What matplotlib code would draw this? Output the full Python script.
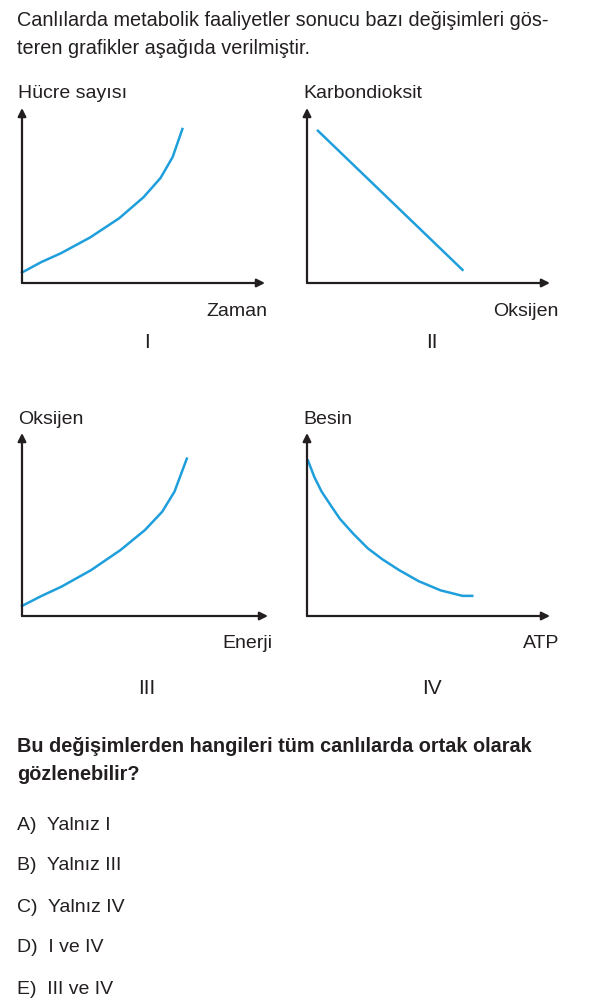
import matplotlib
matplotlib.use("Agg")
import matplotlib.pyplot as plt
import numpy as np

plt.rcParams['font.family'] = ['Liberation Sans', 'DejaVu Sans']
W, H = 599, 1007
TXT = '#231f20'
BLUE = '#1e9fdc'

header = ["Canlılarda metabolik faaliyetler sonucu bazı değişimleri gös-",
          "teren grafikler aşağıda verilmiştir."]
question = ["Bu değişimlerden hangileri tüm canlılarda ortak olarak",
            "gözlenebilir?"]
options = ["A)  Yalnız I", "B)  Yalnız III", "C)  Yalnız IV", "D)  I ve IV", "E)  III ve IV"]

y_labels = ["Hücre sayısı", "Karbondioksit", "Oksijen", "Besin"]
x_labels = ["Zaman", "Oksijen", "Enerji", "ATP"]
romans = ["I", "II", "III", "IV"]
c1_x = [0.0, 0.08, 0.16, 0.28, 0.40, 0.50, 0.57, 0.62, 0.66]
c1_y = [0.06, 0.12, 0.17, 0.26, 0.37, 0.49, 0.60, 0.72, 0.88]
c2_x = [0.045, 0.64]
c2_y = [0.87, 0.075]
c3_x = [0.0, 0.08, 0.16, 0.28, 0.40, 0.50, 0.57, 0.62, 0.67]
c3_y = [0.055, 0.11, 0.16, 0.25, 0.36, 0.47, 0.57, 0.68, 0.86]
c4_x = [0.004, 0.03, 0.06, 0.10, 0.136, 0.19, 0.25, 0.31, 0.38, 0.46, 0.55, 0.61, 0.64, 0.68]
c4_y = [0.85, 0.76, 0.68, 0.60, 0.53, 0.45, 0.37, 0.31, 0.25, 0.19, 0.14, 0.12, 0.11, 0.11]
curves = [(c1_x, c1_y), (c2_x, c2_y), (c3_x, c3_y), (c4_x, c4_y)]

fig = plt.figure(figsize=(W/100, H/100), dpi=100)
bg = fig.add_axes([0, 0, 1, 1])
bg.set_xlim(0, W); bg.set_ylim(H, 0); bg.axis('off')

for i, t in enumerate(header):
    bg.text(17, 20 + 28*i, t, fontsize=14.3, color=TXT, va='center')
for i, t in enumerate(question):
    bg.text(17, 746 + 28*i, t, fontsize=14.3, color=TXT, va='center', fontweight='bold')
for i, t in enumerate(options):
    bg.text(17, 825 + 41*i, t, fontsize=14, color=TXT, va='center')

panels = [(22, 265, 108, 283), (307, 550, 108, 283), (22, 268, 433, 616), (307, 550, 433, 616)]
xlab_pos = [(267, 312), (559, 312), (273, 643), (559, 643)]
roman_pos = [(147, 342), (432, 342), (147, 688), (432, 688)]
for k, (l, r, t, b) in enumerate(panels):
    ax = fig.add_axes([l/W, 1-b/H, (r-l)/W, (b-t)/H])
    ax.set_xlim(0, 1); ax.set_ylim(0, 1); ax.axis('off')
    ax.annotate('', xy=(0, 1), xytext=(0, 0), xycoords='axes fraction',
                arrowprops=dict(arrowstyle='-|>', color=TXT, lw=1.6, mutation_scale=12, shrinkA=0, shrinkB=0))
    ax.annotate('', xy=(1, 0), xytext=(0, 0), xycoords='axes fraction',
                arrowprops=dict(arrowstyle='-|>', color=TXT, lw=1.6, mutation_scale=12, shrinkA=0, shrinkB=0))
    cx, cy = curves[k]
    ax.plot(cx, cy, color=BLUE, lw=1.8, clip_on=False, solid_joinstyle='round')
    bg.text(l - 4, t - 14, y_labels[k], fontsize=14, color=TXT, va='center', ha='left')
    bg.text(xlab_pos[k][0], xlab_pos[k][1], x_labels[k], fontsize=14, color=TXT, va='center', ha='right')
    bg.text(roman_pos[k][0], roman_pos[k][1], romans[k], fontsize=15, color=TXT, va='center', ha='center')

fig.savefig('out.png', dpi=100, facecolor='white')
